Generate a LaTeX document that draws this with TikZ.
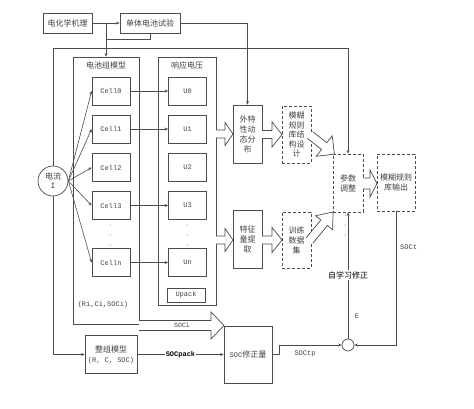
\documentclass[tikz,border=0pt]{standalone}
\usepackage{fontspec}
\setmainfont{Noto Sans CJK SC}
\newfontfamily\lat{Liberation Mono}
\usetikzlibrary{arrows.meta,calc}
\definecolor{lc}{gray}{0.3}
\definecolor{tc}{gray}{0.25}
\tikzset{
 box/.style={draw=lc,line width=0.7pt,inner sep=0pt,align=center,text=tc,font=\fontsize{8}{10}\selectfont},
 dbox/.style={box,dash pattern=on 3pt off 2pt},
 cell/.style={box,minimum width=38pt,minimum height=28pt,font=\lat\fontsize{7}{8}\selectfont},
 conn/.style={draw=lc,line width=0.6pt,-{Stealth[length=3.5pt,width=3pt]}},
 plain/.style={draw=lc,line width=0.6pt},
 barrow/.style={draw=lc,line width=0.7pt,fill=white,line join=miter},
 lbl/.style={text=tc,inner sep=1pt,font=\fontsize{8}{10}\selectfont},
 latl/.style={text=tc,inner sep=1pt,font=\lat\fontsize{7}{8}\selectfont},
 dotm/.style={fill=tc,circle,inner sep=0pt,minimum size=1pt},
}
\newcommand{\blockarrow}[6]{%
 \begin{scope}[shift={#1},rotate=#2]
 \draw[barrow] (0,-#5)--(#3-#4,-#5)--(#3-#4,-#6)--(#3,0)--(#3-#4,#6)--(#3-#4,#5)--(0,#5);
 \end{scope}}
\begin{document}
\begin{tikzpicture}[x=1pt,y=-1pt]
\useasboundingbox (0,0) rectangle (474,409);
% top boxes
\node[box,minimum width=49pt,minimum height=20pt] (chem) at (67.5,23) {电化学机理};
\node[box,minimum width=60pt,minimum height=20pt] (test) at (150,23) {单体电池试验};
% battery pack model
\node[box,minimum width=66pt,minimum height=267pt] (pack) at (106,190.5) {};
\node[lbl] (packt) at (106,65) {电池组模型};
\node[box,minimum width=58pt,minimum height=248pt] (resp) at (187,181) {};
\node[lbl] (respt) at (187,65) {响应电压};
% cells
\node[cell] (c0) at (111,91) {Cell0};
\node[cell] (c1) at (111,129) {Cell1};
\node[cell] (c2) at (111,167.5) {Cell2};
\node[cell] (c3) at (111,205.5) {Cell3};
\node[cell] (cn) at (111,262.5) {Celln};
\node[cell] (u0) at (187.5,91) {U0};
\node[cell] (u1) at (187.5,129) {U1};
\node[cell] (u2) at (187.5,167.5) {U2};
\node[cell] (u3) at (187.5,205.5) {U3};
\node[cell] (un) at (187.5,262.5) {Un};
\node[cell,minimum height=14pt] (up) at (186,295) {Upack};
\node[latl] (ri) at (103,305) {(Ri,Ci,SOCi)};
\foreach \yy [count=\k] in {225,235,245}{
 \node[dotm] (pd\k) at (110,\yy) {};
 \node[dotm] (rd\k) at (187,\yy) {};
 \node[dotm] (sd\k) at (345,\yy-10) {};
}
% current
\node[box,circle,minimum size=30pt] (I) at (53,181) {电流\\[-1pt]{\lat I}};
% right blocks
\node[box,minimum width=29pt,minimum height=58pt] (wt) at (247.5,134) {外特\\性动\\态分\\布};
\node[box,minimum width=29pt,minimum height=58pt] (tz) at (247.5,239) {特征\\量提\\取};
\node[dbox,minimum width=29pt,minimum height=57pt,font=\fontsize{8}{9.5}\selectfont] (mh) at (296.5,134.5) {模糊\\规则\\库结\\构设\\计};
\node[dbox,minimum width=29pt,minimum height=56pt] (xl) at (296.5,240) {训练\\数据\\集};
\node[dbox,minimum width=30pt,minimum height=58pt] (cs) at (348,183) {参数\\调整};
\node[dbox,minimum width=38pt,minimum height=57pt] (out) at (396,182.5) {模糊规则\\库输出};
% bottom
\node[box,minimum width=52pt,minimum height=38pt] (whole) at (111,354.5) {整组模型\\{\lat\fontsize{7}{10}\selectfont(R, C, SOC)}};
\node[box,minimum width=48pt,minimum height=57pt] (soc) at (248,354.5) {{\lat\fontsize{7}{8}\selectfont SOC}修正量};
\node[box,circle,minimum size=12pt] (sum) at (348,345) {};
% connectors top
\coordinate (j1) at (106,23);
\coordinate (j2) at (106,39);
\coordinate (tl) at (53,48);
\draw[conn] (chem.east) -- (test.west);
\draw[conn] (j1) -- (j1 |- pack.north);
\draw[plain] (test.south) |- (j2);
\draw[conn] (test.east) -| (wt.north);
\draw[conn] (I.north) -- (tl) -| (cs.north);
\draw[conn] (I.south) |- (whole.west);
% current to cells
\foreach \c in {c0,c1,c2,c3,cn}{\draw[conn] (I.east) -- (\c.west);}
\draw[conn] (c0) -- (u0);
\draw[conn] (c1) -- (u1);
\draw[conn] (c3) -- (u3);
\draw[conn] (cn) -- (un);
% block arrows
\blockarrow{(216,134)}{0}{17}{8}{4}{11.5}
\blockarrow{(216,240)}{0}{17}{8}{4}{11.5}
\blockarrow{(262,134.5)}{0}{20}{10}{4}{12.5}
\blockarrow{(262,240)}{0}{20}{10}{4}{12.5}
\blockarrow{(310,135)}{-38}{31}{13}{4.3}{13}
\blockarrow{(309.5,240.5)}{50.5}{37}{14}{4.3}{11}
\blockarrow{(363,183.5)}{0}{14}{7}{5.5}{13.5}
\blockarrow{(139,325.5)}{0}{85}{13}{5}{13.5}
\node[latl,font=\lat\fontsize{6.5}{7}\selectfont] (soci) at (182,325) {SOCi};
% bottom connectors
\draw[conn] (whole.east) -- node[fill=white,inner sep=0.5pt,text=black,font=\lat\bfseries\fontsize{7}{8}\selectfont] (socp) {SOCpack} (soc.west);
\draw[conn] (soc.east) -- ++(7,0) |- (sum.west);
\node[latl] (soctp) at (305,354) {SOCtp};
\draw[conn] (out.south) |- (sum.east);
\node[latl,anchor=west] (soct) at (399,247) {SOCt};
\draw[conn] (sum.north) -- (cs.south);
\node[lbl,fill=white,text=black] (zx) at (348,275) {自学习修正};
\node[latl] (e) at (357,316) {E};
\end{tikzpicture}
\end{document}
